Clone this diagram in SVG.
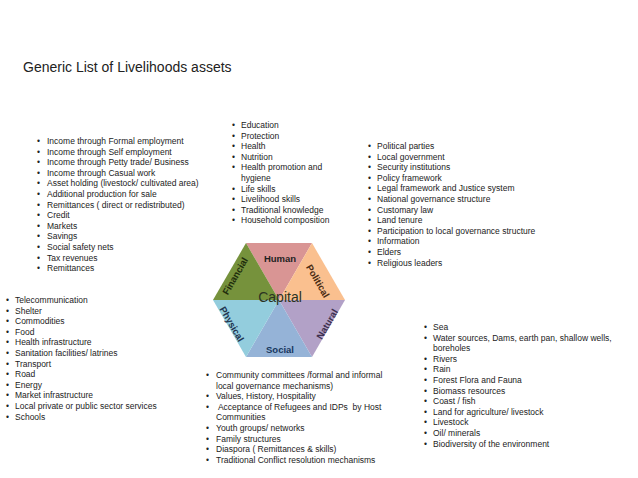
<svg xmlns="http://www.w3.org/2000/svg" width="638" height="478" viewBox="0 0 638 478">
<style>
text{font-family:"Liberation Sans",Arial,sans-serif;fill:#222;}
.t{font-size:14px;}
.l{font-size:8.5px;white-space:pre;}
.b{font-size:8.5px;}
.h{font-size:9.5px;font-weight:bold;text-anchor:middle;}
.cap{font-size:14px;text-anchor:middle;fill:#2b3322;}
</style>
<rect width="638" height="478" fill="#fff"/>
<text class="t" x="23" y="72">Generic List of Livelihoods assets</text>

<g id="financial-list">
<g class="b"><text x="37" y="144">•</text><text x="37" y="154.6">•</text><text x="37" y="165.2">•</text><text x="37" y="175.8">•</text><text x="37" y="186.4">•</text><text x="37" y="197">•</text><text x="37" y="207.6">•</text><text x="37" y="218.2">•</text><text x="37" y="228.8">•</text><text x="37" y="239.4">•</text><text x="37" y="250">•</text><text x="37" y="260.6">•</text><text x="37" y="271.2">•</text></g>
<text class="l" x="47" y="144">Income through Formal employment</text>
<text class="l" x="47" y="154.6">Income through Self employment</text>
<text class="l" x="47" y="165.2">Income through Petty trade/ Business</text>
<text class="l" x="47" y="175.8">Income through Casual work</text>
<text class="l" x="47" y="186.4">Asset holding (livestock/ cultivated area)</text>
<text class="l" x="47" y="197">Additional production for sale</text>
<text class="l" x="47" y="207.6">Remittances ( direct or redistributed)</text>
<text class="l" x="47" y="218.2">Credit</text>
<text class="l" x="47" y="228.8">Markets</text>
<text class="l" x="47" y="239.4">Savings</text>
<text class="l" x="47" y="250">Social safety nets</text>
<text class="l" x="47" y="260.6">Tax revenues</text>
<text class="l" x="47" y="271.2">Remittances</text>
</g>

<g id="human-list">
<g class="b"><text x="232" y="128">•</text><text x="232" y="138.6">•</text><text x="232" y="149.2">•</text><text x="232" y="159.8">•</text><text x="232" y="170.4">•</text><text x="232" y="191.6">•</text><text x="232" y="202.2">•</text><text x="232" y="212.8">•</text><text x="232" y="223.4">•</text></g>
<text class="l" x="241" y="128">Education</text>
<text class="l" x="241" y="138.6">Protection</text>
<text class="l" x="241" y="149.2">Health</text>
<text class="l" x="241" y="159.8">Nutrition</text>
<text class="l" x="241" y="170.4">Health promotion and</text>
<text class="l" x="241" y="181">hygiene</text>
<text class="l" x="241" y="191.6">Life skills</text>
<text class="l" x="241" y="202.2">Livelihood skills</text>
<text class="l" x="241" y="212.8">Traditional knowledge</text>
<text class="l" x="241" y="223.4">Household composition</text>
</g>

<g id="political-list">
<g class="b"><text x="368" y="149">•</text><text x="368" y="159.6">•</text><text x="368" y="170.2">•</text><text x="368" y="180.8">•</text><text x="368" y="191.4">•</text><text x="368" y="202">•</text><text x="368" y="212.6">•</text><text x="368" y="223.2">•</text><text x="368" y="233.8">•</text><text x="368" y="244.4">•</text><text x="368" y="255">•</text><text x="368" y="265.6">•</text></g>
<text class="l" x="377" y="149">Political parties</text>
<text class="l" x="377" y="159.6">Local government</text>
<text class="l" x="377" y="170.2">Security institutions</text>
<text class="l" x="377" y="180.8">Policy framework</text>
<text class="l" x="377" y="191.4">Legal framework and Justice system</text>
<text class="l" x="377" y="202">National governance structure</text>
<text class="l" x="377" y="212.6">Customary law</text>
<text class="l" x="377" y="223.2">Land tenure</text>
<text class="l" x="377" y="233.8">Participation to local governance structure</text>
<text class="l" x="377" y="244.4">Information</text>
<text class="l" x="377" y="255">Elders</text>
<text class="l" x="377" y="265.6">Religious leaders</text>
</g>

<g id="physical-list">
<g class="b"><text x="6" y="303">•</text><text x="6" y="313.6">•</text><text x="6" y="324.2">•</text><text x="6" y="334.8">•</text><text x="6" y="345.4">•</text><text x="6" y="356">•</text><text x="6" y="366.6">•</text><text x="6" y="377.2">•</text><text x="6" y="387.8">•</text><text x="6" y="398.4">•</text><text x="6" y="409">•</text><text x="6" y="419.6">•</text></g>
<text class="l" x="15" y="303">Telecommunication</text>
<text class="l" x="15" y="313.6">Shelter</text>
<text class="l" x="15" y="324.2">Commodities</text>
<text class="l" x="15" y="334.8">Food</text>
<text class="l" x="15" y="345.4">Health infrastructure</text>
<text class="l" x="15" y="356">Sanitation facilities/ latrines</text>
<text class="l" x="15" y="366.6">Transport</text>
<text class="l" x="15" y="377.2">Road</text>
<text class="l" x="15" y="387.8">Energy</text>
<text class="l" x="15" y="398.4">Market infrastructure</text>
<text class="l" x="15" y="409">Local private or public sector services</text>
<text class="l" x="15" y="419.6">Schools</text>
</g>

<g id="social-list">
<g class="b"><text x="206" y="378">•</text><text x="206" y="399.2">•</text><text x="206" y="409.8">•</text><text x="206" y="431">•</text><text x="206" y="441.6">•</text><text x="206" y="452.2">•</text><text x="206" y="462.8">•</text></g>
<text class="l" x="216" y="378">Community committees /formal and informal</text>
<text class="l" x="216" y="388.6">local governance mechanisms)</text>
<text class="l" x="216" y="399.2">Values, History, Hospitality</text>
<text class="l" x="216" y="409.8"> Acceptance of Refugees and IDPs  by Host</text>
<text class="l" x="216" y="420.4">Communities</text>
<text class="l" x="216" y="431">Youth groups/ networks</text>
<text class="l" x="216" y="441.6">Family structures</text>
<text class="l" x="216" y="452.2">Diaspora ( Remittances &amp; skills)</text>
<text class="l" x="216" y="462.8">Traditional Conflict resolution mechanisms</text>
</g>

<g id="natural-list">
<g class="b"><text x="424" y="330">•</text><text x="424" y="340.6">•</text><text x="424" y="361.8">•</text><text x="424" y="372.4">•</text><text x="424" y="383">•</text><text x="424" y="393.6">•</text><text x="424" y="404.2">•</text><text x="424" y="414.8">•</text><text x="424" y="425.4">•</text><text x="424" y="436">•</text><text x="424" y="446.6">•</text></g>
<text class="l" x="433" y="330">Sea</text>
<text class="l" x="433" y="340.6">Water sources, Dams, earth pan, shallow wells,</text>
<text class="l" x="433" y="351.2">boreholes</text>
<text class="l" x="433" y="361.8">Rivers</text>
<text class="l" x="433" y="372.4">Rain</text>
<text class="l" x="433" y="383">Forest Flora and Fauna</text>
<text class="l" x="433" y="393.6">Biomass resources</text>
<text class="l" x="433" y="404.2">Coast / fish</text>
<text class="l" x="433" y="414.8">Land for agriculture/ livestock</text>
<text class="l" x="433" y="425.4">Livestock</text>
<text class="l" x="433" y="436">Oil/ minerals</text>
<text class="l" x="433" y="446.6">Biodiversity of the environment</text>
</g>

<g id="hexagon">
<g id="seg-human"><polygon points="279,300 246,243 312,243" fill="#D99594"/><text class="h" x="280" y="262" fill="#333">Human</text></g>
<g id="seg-political"><polygon points="279,300 312,243 345,300" fill="#FAC08F"/><text class="h" transform="translate(318,281) rotate(60)" y="3.5" style="fill:#4a2c14">Political</text></g>
<g id="seg-natural"><polygon points="279,300 345,300 312,357" fill="#B2A1C7"/><text class="h" transform="translate(327,324) rotate(-60)" y="3.5" style="fill:#3f3151">Natural</text></g>
<g id="seg-social"><polygon points="279,300 312,357 246,357" fill="#95B3D7"/><text class="h" x="280" y="353" style="fill:#17375E">Social</text></g>
<g id="seg-physical"><polygon points="279,300 246,357 213,300" fill="#93CDDD"/><text class="h" transform="translate(232,324) rotate(60)" y="3.5" style="fill:#1f3550">Physical</text></g>
<g id="seg-financial"><polygon points="279,300 213,300 246,243" fill="#76923C"/><text class="h" transform="translate(235,276) rotate(-60)" y="3.5" style="fill:#1f2d0c">Financial</text></g>
<text class="cap" x="280" y="302">Capital</text>
</g>
</svg>
